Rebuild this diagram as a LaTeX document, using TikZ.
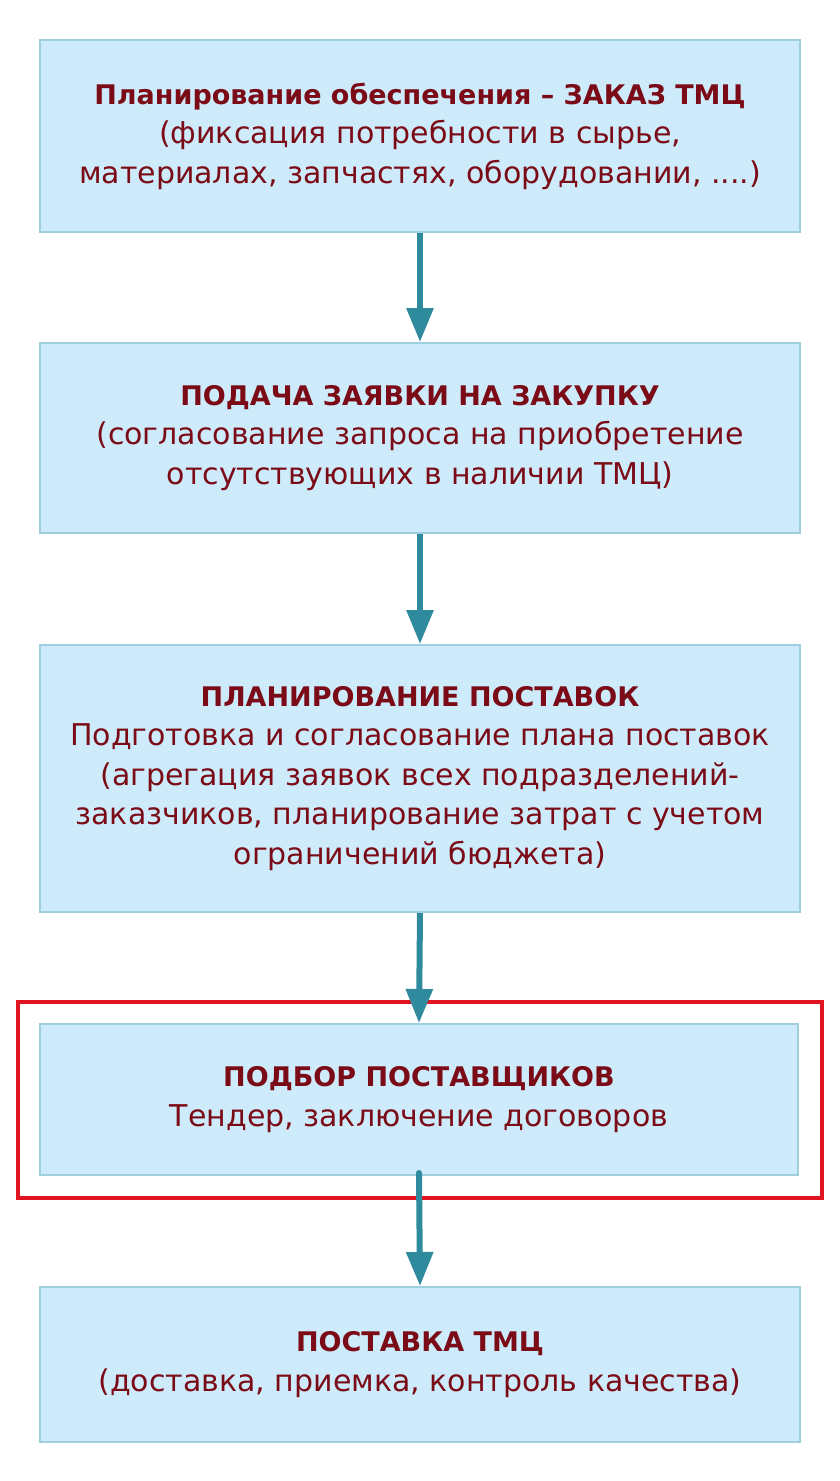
\documentclass[tikz,border=0pt]{standalone}
\usepackage{fontspec}
\setmainfont{DejaVu Sans}
\usetikzlibrary{arrows.meta}
\definecolor{boxfill}{HTML}{CDEBFA}
\definecolor{boxline}{HTML}{9FCFDF}
\definecolor{txtred}{HTML}{7B0C17}
\definecolor{arrowc}{HTML}{2F8A9E}
\definecolor{frame}{HTML}{E0141E}
\newcommand{\stagetitle}[1]{{\fontsize{27}{39.5}\selectfont\bfseries #1}}
\tikzset{
  stage/.style={draw=boxline, line width=2pt, fill=boxfill, minimum width=760pt,
    align=center, text=txtred, font=\fontsize{30}{39.5}\selectfont, inner sep=0pt},
  flow/.style={draw=arrowc, line width=6pt, -{Triangle[width=26pt,length=34pt]}},
}
\begin{document}
\begin{tikzpicture}[x=1pt,y=-1pt]
\useasboundingbox (0,0) rectangle (839,1481);
\fill[white] (0,0) rectangle (839,1481);
\node[stage, minimum height=192pt] (b1) at (420,136)
  {\stagetitle{Планирование обеспечения – ЗАКАЗ ТМЦ}\\(фиксация потребности в сырье,\\материалах, запчастях, оборудовании, ....)};
\node[stage, minimum height=190pt] (b2) at (420,438)
  {\stagetitle{ПОДАЧА ЗАЯВКИ НА ЗАКУПКУ}\\(согласование запроса на приобретение\\отсутствующих в наличии ТМЦ)};
\node[stage, minimum height=267pt] (b3) at (420,778.5)
  {\stagetitle{ПЛАНИРОВАНИЕ ПОСТАВОК}\\Подготовка и согласование плана поставок\\(агрегация заявок всех подразделений-\\заказчиков, планирование затрат с учетом\\ограничений бюджета)};
\node[draw=frame, line width=3.5pt, minimum width=804pt, minimum height=196pt, inner sep=0pt] (fr) at (420,1100) {};
\node[stage, minimum width=758pt, minimum height=151pt] (b4) at (419,1099.5)
  {\stagetitle{ПОДБОР ПОСТАВЩИКОВ}\\Тендер, заключение договоров};
\node[stage, minimum height=155pt] (b5) at (420,1364.5)
  {\stagetitle{ПОСТАВКА ТМЦ}\\(доставка, приемка, контроль качества)};
\draw[flow] (b1.south) -- (b2.north);
\draw[flow] (b2.south) -- (b3.north);
\draw[flow] (b3.south) -- (b4.north);
\draw[flow, line cap=round] ([yshift=3pt]b4.south) -- (b5.north);
\end{tikzpicture}
\end{document}
